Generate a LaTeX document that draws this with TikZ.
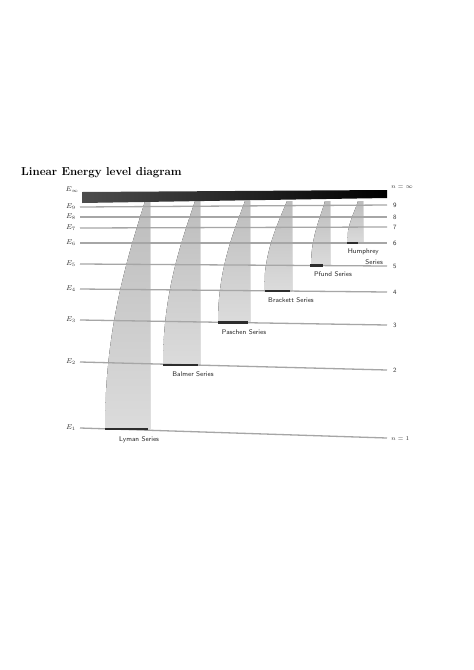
\documentclass[tikz,border=0pt]{standalone}
\begin{document}
\begin{tikzpicture}[x=1pt,y=-1pt,
  level/.style={draw=gray!70, line width=1.3pt},
  band/.style={top color=gray!52, bottom color=gray!28, draw=none},
  base/.style={line width=2.4pt, draw=gray!35!black},
  serlab/.style={font=\sffamily\fontsize{6.8}{7.5}\selectfont, text=black!85, inner sep=0pt},
  numlab/.style={font=\sffamily\fontsize{6.5}{7}\selectfont, text=black!80, inner sep=0pt},
  elab/.style={font=\fontsize{7.5}{8}\selectfont, text=black!80, inner sep=0pt}]
\fill[white] (0,0) rectangle (474,670);
\useasboundingbox (0,0) rectangle (474,670);

% title
\node[anchor=west, inner sep=0pt, font=\bfseries\fontsize{11.5}{13}\selectfont] (title) at (21,173) {Linear Energy level diagram};

% series bands: #1 top x, #2 bottom-left x, #3 bottom y
\newcommand\seriesband[3]{%
  \fill[band] (#1,201) -- (#1,#3) -- (#2,#3)
    .. controls (#2,{201+0.55*(#3-201)}) and ({#2+0.5*(#1-#2)},{201+0.25*(#3-201)}) ..
    ({#1-5},201) -- cycle;}
\seriesband{150}{105}{429}
\seriesband{200}{163}{365}
\seriesband{250}{218}{322.5}
\seriesband{292}{264}{291}
\seriesband{330}{311}{265.5}
\seriesband{363}{347}{243}

% levels
\foreach \n/\yl/\yr in {9/207/205, 8/217/217, 7/228/227, 6/243/243, 5/264/266, 4/289/292, 3/320/325, 2/362/370, 1/428/438} {
  \coordinate (L\n) at (80,\yl);
  \coordinate (R\n) at (387,\yr);
  \draw[level] (L\n) -- (R\n);
  \node[elab, anchor=east] (E\n) at ([xshift=-4pt]L\n) {$E_{\n}$};
}
\foreach \n/\yr in {9/205, 8/217, 7/227, 6/243, 5/266, 4/292, 3/325, 2/370} {
  \node[numlab, anchor=west] (N\n) at (393,\yr) {\n};
}
\node[numlab, anchor=west] (N1) at (391,439) {$n=1$};

% ionisation bar
\coordinate (Linf) at (82,197);
\coordinate (Rinf) at (387,194);
\shade[left color=gray!60!black, right color=black] (82,192) -- (387,190) -- (387,198) -- (82,203) -- cycle;
\node[elab, anchor=east] (Einf) at (79,190) {$E_{\infty}$};
\node[numlab, anchor=west] (Ninf) at (391,187) {$n=\infty$};

% base marks
\draw[base] (105,429) -- (148,429);
\draw[base] (163,365) -- (198,365);
\draw[base] (218,322.5) -- (248,322.5);
\draw[base] (265,291) -- (290,291);
\draw[base] (310,265.5) -- (323,265.5);
\draw[base] (347,243) -- (358,243);

% series labels
\node[serlab] (lyman) at (139,440) {Lyman Series};
\node[serlab] (balmer) at (193,374) {Balmer Series};
\node[serlab] (paschen) at (244,332) {Paschen Series};
\node[serlab] (brackett) at (291,300) {Brackett Series};
\node[serlab] (pfund) at (333,274) {Pfund Series};
\node[serlab, anchor=east] (humph1) at (379,252) {Humphrey};
\node[serlab, anchor=east] (humph2) at (383,262) {Series};
\end{tikzpicture}
\end{document}
